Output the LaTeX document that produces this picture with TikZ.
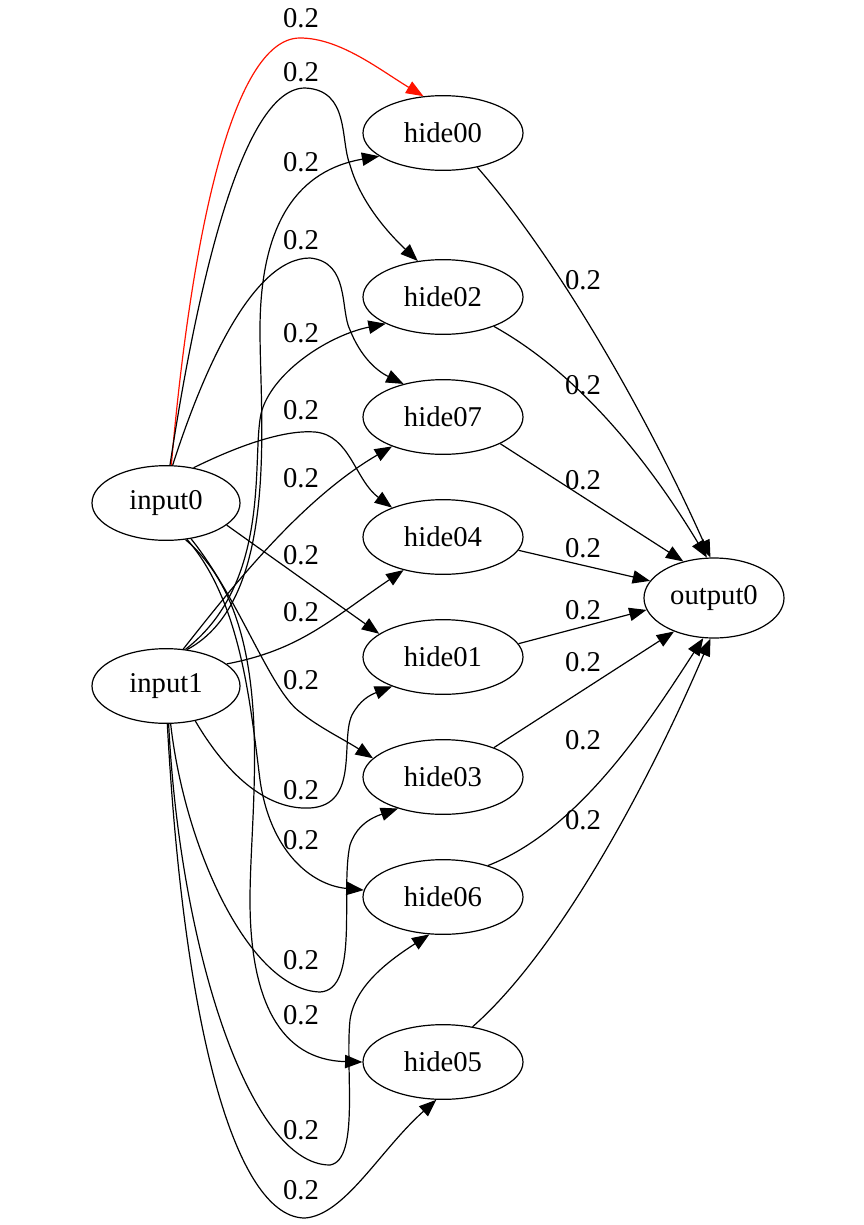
\documentclass[tikz,border=0pt]{standalone}
\usepackage{fontspec}
\setmainfont{Liberation Serif}
\usetikzlibrary{shapes.geometric,arrows.meta}
\begin{document}
\begin{tikzpicture}[x=0.75pt,y=-0.75pt,
  nd/.style={ellipse,draw,line width=0.9pt,minimum width=120pt,minimum height=56pt,inner sep=0pt,font=\fontsize{21.5}{24}\selectfont},
  e/.style={draw,line width=0.9pt,-{Triangle[length=13pt,width=10pt]}},
  lb/.style={font=\fontsize{21.5}{24}\selectfont}]
\useasboundingbox (0,0) rectangle (864,1225);
\node[nd,minimum width=111pt] (i0) at (166,503) {input0};
\node[nd,minimum width=111pt] (i1) at (166,686) {input1};
\node[nd] (h0) at (443,133) {hide00};
\node[nd] (h2) at (443,297) {hide02};
\node[nd] (h7) at (443,417) {hide07};
\node[nd] (h4) at (443,537) {hide04};
\node[nd] (h1) at (443,657) {hide01};
\node[nd] (h3) at (443,777) {hide03};
\node[nd] (h6) at (443,897) {hide06};
\node[nd] (h5) at (443,1062) {hide05};
\node[nd,minimum width=105pt,minimum height=60pt] (o) at (714,598) {output0};
% input0 edges
\draw[e,red!85!orange] (i0.82) .. controls (190,250) and (230,38) .. (300,38) .. controls (340,38) and (380,70) .. (h0.118);
\draw[e] (i0.84) .. controls (195,300) and (240,88) .. (305,88) .. controls (350,90) and (340,140) .. (350,165) .. controls (360,200) and (385,230) .. (h2.125);
\draw[e] (i0.80) .. controls (200,380) and (250,258) .. (310,258) .. controls (350,262) and (340,310) .. (350,330) .. controls (360,355) and (375,370) .. (h7.140);
\draw[e] (i0.52) .. controls (250,440) and (290,430) .. (315,432) .. controls (350,435) and (355,480) .. (h4.150);
\draw[e] (i0.-20) -- (h1.160);
\draw[e] (i0.-55) .. controls (240,600) and (270,690) .. (300,712) .. controls (320,728) and (345,740) .. (h3.165);
\draw[e] (i0.-60) .. controls (240,600) and (250,700) .. (260,780) .. controls (270,850) and (310,885) .. (h6.175);
\draw[e] (i0.-62) .. controls (280,620) and (250,800) .. (250,900) .. controls (250,1000) and (280,1060) .. (h5.180);
% input1 edges
\draw[e] (i1.60) .. controls (280,600) and (260,420) .. (260,330) .. controls (260,220) and (300,170) .. (h0.-160);
\draw[e] (i1.62) .. controls (275,580) and (250,450) .. (262,410) .. controls (275,370) and (330,335) .. (h2.-155);
\draw[e] (i1.65) .. controls (230,590) and (300,500) .. (h7.-150);
\draw[e] (i1.20) .. controls (300,650) and (330,620) .. (h4.-140);
\draw[e] (i1.-50) .. controls (230,780) and (270,810) .. (310,808) .. controls (360,805) and (340,740) .. (352,715) .. controls (360,700) and (370,695) .. (h1.-150);
\draw[e] (i1.-83) .. controls (185,850) and (250,990) .. (320,992) .. controls (360,990) and (340,890) .. (350,845) .. controls (355,830) and (365,820) .. (h3.-145);
\draw[e] (i1.-86) .. controls (180,950) and (250,1165) .. (330,1165) .. controls (360,1160) and (345,1070) .. (350,1020) .. controls (355,985) and (390,960) .. (h6.-110);
\draw[e] (i1.-88) .. controls (185,1050) and (240,1218) .. (305,1218) .. controls (345,1215) and (380,1150) .. (h5.-100);
% hide -> output
\draw[e] (h0.-45) .. controls (550,250) and (640,400) .. (o.95);
\draw[e] (h2.-30) .. controls (590,380) and (660,480) .. (o.100);
\draw[e] (h7.-25) -- (o.130);
\draw[e] (h4.-10) -- (o.165);
\draw[e] (h1.10) -- (o.-170);
\draw[e] (h3.30) -- (o.-140);
\draw[e] (h6.35) .. controls (580,830) and (650,720) .. (o.-105);
\draw[e] (h5.50) .. controls (560,950) and (650,780) .. (o.-95);
% labels
\foreach \y in {18,72,162,240,333,410,478,555,612,680,790,840,960,1015,1130,1190}
  \node[lb] (l\y) at (301,\y) {0.2};
\foreach \y in {280,385,480,548,610,662,740,820}
  \node[lb] (m\y) at (583,\y) {0.2};
\end{tikzpicture}
\end{document}
